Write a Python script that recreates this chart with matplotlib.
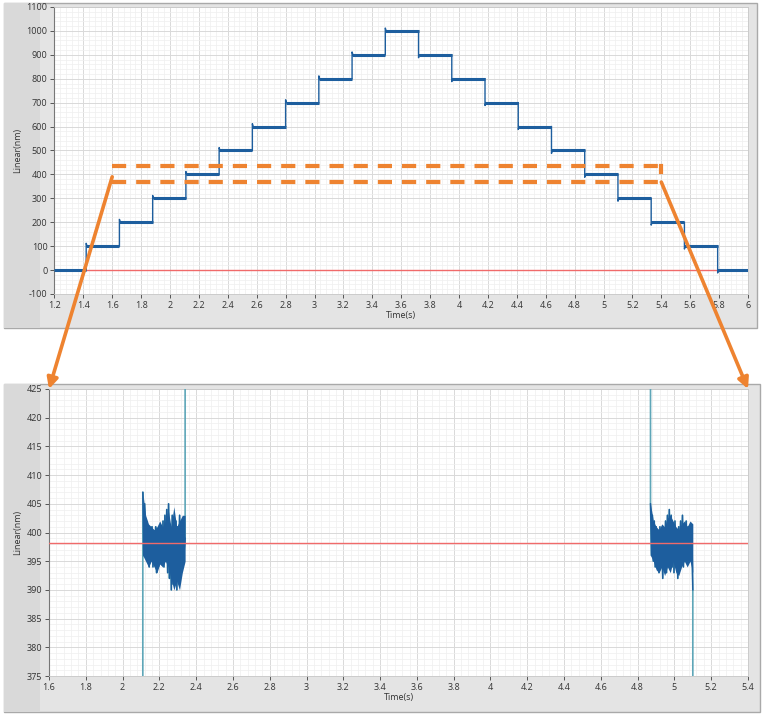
import numpy as np
import matplotlib
matplotlib.use("Agg")
import matplotlib.pyplot as plt
from matplotlib.patches import Rectangle, ConnectionPatch
from matplotlib.ticker import MultipleLocator, FuncFormatter

# step trace (top panel)
step_times = [1.42, 1.65, 1.88, 2.11, 2.34, 2.57, 2.80, 3.03, 3.26, 3.49,
              3.72, 3.95, 4.18, 4.41, 4.64, 4.87, 5.10, 5.33, 5.56, 5.79]
step_levels = [0, 100, 200, 300, 400, 500, 600, 700, 800, 900, 1000,
               900, 800, 700, 600, 500, 400, 300, 200, 100, 0]
overshoot = 12
ref_top = 0

# zoomed 400 nm plateaus (bottom panel)
burst1_start, burst1_end = 2.11, 2.34
burst1 = [407, 396, 405, 397, 402, 395, 401, 394, 400, 396, 401, 394, 400, 395,
          401, 393, 399, 394, 400, 395, 401, 396, 402, 394, 403, 395, 404, 393,
          405, 392, 401, 390, 403, 391, 400, 393, 402, 390, 401, 394, 403, 395,
          402, 396, 400, 397, 399]
burst1_hi = [407, 403, 401.5, 401, 400.5, 401, 402, 401, 402, 404, 401, 404.5, 401, 402, 403, 403]
burst1_lo = [396, 395, 394, 395, 394, 393, 394.5, 394, 395, 394, 392, 390, 391.5, 390, 393, 395]
burst2_start, burst2_end = 4.87, 5.10
burst2 = [405, 396, 403, 395, 402, 394, 401, 396, 400, 393, 401, 394, 399, 392,
          400, 394, 402, 393, 403, 395, 404, 396, 403, 394, 401, 393, 402, 395,
          400, 392, 401, 395, 402, 396, 403, 394, 401, 395, 402, 397, 401, 396,
          400, 397, 399, 390]
burst2_hi = [405, 402, 401, 400.5, 401.5, 401, 402.5, 403, 402, 401, 400.5, 401.5, 402, 401, 402, 401.5]
burst2_lo = [396, 395, 393.5, 393, 394, 392.5, 394, 393, 395, 393, 392.5, 394, 395, 394, 395, 393]
ref_bottom = 398.2

# zoom window marked on top panel
win_x = [1.6, 5.4]
win_upper = 435
win_lower = 368

W, H = 768, 715
fig = plt.figure(figsize=(W / 100, H / 100), dpi=100)
plt.rcParams['font.family'] = ['Open Sans', 'DejaVu Sans']


def px(x0, y0, x1, y1):
    return [x0 / W, 1 - y1 / H, (x1 - x0) / W, (y1 - y0) / H]


# grey panel frames
for (x0, y0, x1, y1) in [(4, 3, 757, 328), (4, 384, 760, 712)]:
    fig.add_artist(Rectangle((x0 / W, 1 - y1 / H), (x1 - x0) / W, (y1 - y0) / H,
                             transform=fig.transFigure, facecolor='#e4e4e4',
                             edgecolor='#a9a9a9', lw=1.0, zorder=0))
    fig.add_artist(Rectangle((x0 / W, 1 - y1 / H), 36 / W, (y1 - y0) / H,
                             transform=fig.transFigure, facecolor='#d9d9d9',
                             edgecolor='none', zorder=0))

ax1 = fig.add_axes(px(54.4, 7, 748, 294))
ax2 = fig.add_axes(px(49, 389, 748, 676))

blue = '#1d5e9e'
red = '#f06a6a'
orange = '#ee8330'


def style(ax, xmin, xmax, ymin, ymax, ymaj, ymin_step):
    ax.set_xlim(xmin, xmax)
    ax.set_ylim(ymin, ymax)
    ax.xaxis.set_major_locator(MultipleLocator(0.2))
    ax.xaxis.set_minor_locator(MultipleLocator(0.04))
    ax.yaxis.set_major_locator(MultipleLocator(ymaj))
    ax.yaxis.set_minor_locator(MultipleLocator(ymin_step))
    ax.xaxis.set_major_formatter(FuncFormatter(lambda v, p: '%g' % round(v, 2)))
    ax.yaxis.set_major_formatter(FuncFormatter(lambda v, p: '%g' % round(v, 2)))
    ax.grid(which='major', color='#d9d9d9', lw=0.7)
    ax.grid(which='minor', color='#efefef', lw=0.5)
    ax.set_axisbelow(True)
    ax.tick_params(which='major', length=3, width=0.7, color='#555',
                   labelsize=6.5, labelcolor='#333', pad=2)
    ax.tick_params(which='minor', length=0)
    for s in ['top', 'right', 'bottom']:
        ax.spines[s].set_color('#c8c8c8')
        ax.spines[s].set_linewidth(0.6)
    ax.spines['left'].set_color('#777')
    ax.spines['left'].set_linewidth(0.8)
    ax.set_xlabel('Time(s)', fontsize=6.5, color='#333', labelpad=1)
    ax.set_ylabel('Linear(nm)', fontsize=6.5, color='#333', labelpad=3)


# top panel
style(ax1, 1.2, 6.0, -100, 1100, 100, 20)
ax1.axhline(ref_top, color=red, lw=1.0, zorder=2)
edges = [1.2] + step_times + [6.0]
for i, lev in enumerate(step_levels):
    ax1.plot([edges[i], edges[i + 1]], [lev, lev], color=blue, lw=2.2,
             solid_capstyle='butt', zorder=3)
for i, t in enumerate(step_times):
    prev, new = step_levels[i], step_levels[i + 1]
    sgn = 1 if new > prev else -1
    ax1.plot([t, t, t + 0.006], [prev, new + sgn * overshoot, new],
             color=blue, lw=1.0, zorder=3)

dash = dict(color=orange, lw=3.0, dashes=(3.4, 2.4), solid_capstyle='butt', zorder=5)
ax1.plot(win_x, [win_upper, win_upper], **dash)
ax1.plot(win_x, [win_lower, win_lower], **dash)
ax1.plot([win_x[1], win_x[1]], [win_upper, win_upper - 25], color=orange, lw=3.0, zorder=5)

# bottom panel
style(ax2, 1.6, 5.4, 375, 425, 5, 1)
t1 = np.linspace(burst1_start, burst1_end, len(burst1))
t2 = np.linspace(burst2_start, burst2_end, len(burst2))
bx = [1.6, burst1_start] + list(t1) + [burst1_end, burst2_start] + list(t2) + [burst2_end, 5.4]
by = [300, 300] + burst1 + [500, 500] + burst2 + [300, 300]
ax2.plot(bx, by, color='#5ea6b8', lw=1.2, zorder=3)
e1 = np.linspace(burst1_start, burst1_end, len(burst1_hi))
e2 = np.linspace(burst2_start, burst2_end, len(burst2_hi))
ax2.fill_between(e1, burst1_lo, burst1_hi, color=blue, lw=0, zorder=4)
ax2.fill_between(e2, burst2_lo, burst2_hi, color=blue, lw=0, zorder=4)
ax2.plot(t1, burst1, color=blue, lw=1.0, zorder=4)
ax2.plot(t2, burst2, color=blue, lw=1.0, zorder=4)
ax2.axhline(ref_bottom, color=red, lw=1.0, zorder=5)

# connector arrows from the window to the zoomed panel
for xa, ya in [(win_x[0], 390), (win_x[1], win_lower)]:
    con = ConnectionPatch(xyA=(xa, ya), coordsA=ax1.transData,
                          xyB=(xa, 425), coordsB=ax2.transData,
                          arrowstyle='-|>', color=orange, lw=2.6,
                          mutation_scale=16, shrinkA=0, shrinkB=0, zorder=10)
    fig.add_artist(con)

fig.savefig('out.png', dpi=100)
